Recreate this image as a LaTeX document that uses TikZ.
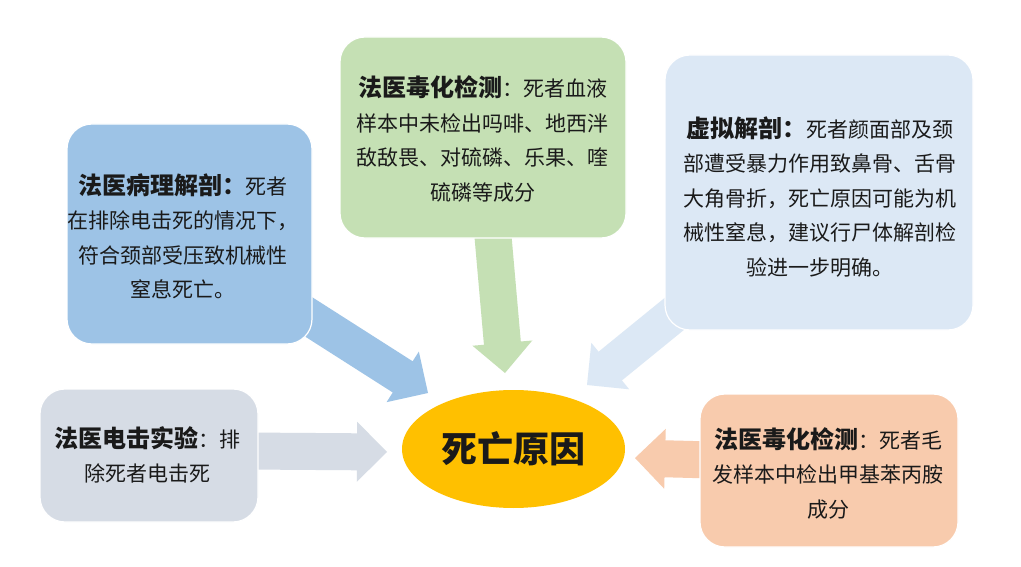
\documentclass[tikz,border=0pt]{standalone}
\usepackage{fontspec}
\newfontfamily\cjk{Noto Sans CJK SC}
\usetikzlibrary{calc,shapes.geometric}
\definecolor{cBlue}{HTML}{9DC3E6}
\definecolor{cGray}{HTML}{D6DCE5}
\definecolor{cGreen}{HTML}{C5E0B4}
\definecolor{cLight}{HTML}{DCE8F5}
\definecolor{cOrange}{HTML}{F8CBAD}
\definecolor{cGold}{HTML}{FFC000}
\definecolor{cText}{HTML}{1A1A1A}
\pgfdeclarelayer{bg}
\pgfsetlayers{bg,main}
\tikzset{
  box/.style={rectangle, rounded corners=25pt, draw=white, line width=1.2pt, inner sep=0pt},
  txt/.style={align=center, font=\cjk\fontsize{21}{34.5}\selectfont, text=cText, inner sep=0pt},
  hub/.style={ellipse, fill=cGold, inner sep=0pt, text=cText,
    font=\cjk\bfseries\fontsize{36}{40}\selectfont},
}
\newcommand\ttl[1]{{\fontsize{24}{34.5}\selectfont\bfseries #1}}
% block arrow: start, tip, colour
\newcommand\blockarr[3]{%
  \coordinate (hb) at ($(#2)!30pt!(#1)$);
  \fill[#3] ($(#1)!18.5pt!90:(#2)$) -- ($(hb)!18.5pt!90:(#2)$) -- ($(hb)!30pt!90:(#2)$)
    -- (#2) -- ($(hb)!30pt!-90:(#2)$) -- ($(hb)!18.5pt!-90:(#2)$)
    -- ($(#1)!18.5pt!-90:(#2)$) -- cycle;}
\begin{document}
\begin{tikzpicture}[x=1pt,y=-1pt]
\useasboundingbox (0,0) rectangle (1021,567);

% boxes
\node[box, fill=cBlue,   minimum width=245, minimum height=220] (path)  at (189.5,234) {};
\node[box, fill=cGray,   minimum width=218, minimum height=133] (elec)  at (149,455.5) {};
\node[box, fill=cGreen,  minimum width=286, minimum height=201] (tox1)  at (483,137.5) {};
\node[box, fill=cLight,  minimum width=308, minimum height=275] (virt)  at (819,192.5) {};
\node[box, fill=cOrange, minimum width=258, minimum height=153] (tox2)  at (829,470.5) {};
\node[hub, minimum width=223, minimum height=118] (cause) at (513.5,449) {死亡原因};

% texts
\node[txt] (pathT) at (183,236.5) {\ttl{法医病理解剖：}死者\\在排除电击死的情况下，\\符合颈部受压致机械性\\窒息死亡。};
\node[txt] (elecT) at (147.5,455) {\ttl{法医电击实验}：排\\除死者电击死};
\node[txt] (tox1T) at (482.5,139) {\ttl{法医毒化检测}：死者血液\\样本中未检出吗啡、地西泮\\敌敌畏、对硫磷、乐果、喹\\硫磷等成分};
\node[txt] (virtT) at (820,197) {\ttl{虚拟解剖：}死者颜面部及颈\\部遭受暴力作用致鼻骨、舌骨\\大角骨折，死亡原因可能为机\\械性窒息，建议行尸体解剖检\\验进一步明确。};
\node[txt] (tox2T) at (828,473) {\ttl{法医毒化检测}：死者毛\\发样本中检出甲基苯丙胺\\成分};

% arrow anchors
\coordinate (sPath) at (301,312);  \coordinate (tPath) at (428,393);
\coordinate (sTox1) at (492,225);  \coordinate (tTox1) at (505,373);
\coordinate (sVirt) at (684,306);  \coordinate (tVirt) at (587,385);
\coordinate (sElec) at (245,451);  \coordinate (tElec) at (387,452);
\coordinate (sTox2) at (712,460);  \coordinate (tTox2) at (635,458);

\begin{pgfonlayer}{bg}
\fill[white] (0,0) rectangle (1021,567);
\blockarr{sPath}{tPath}{cBlue}
\blockarr{sTox1}{tTox1}{cGreen}
\blockarr{sVirt}{tVirt}{cLight}
\blockarr{sElec}{tElec}{cGray}
\blockarr{sTox2}{tTox2}{cOrange}
\end{pgfonlayer}
\end{tikzpicture}
\end{document}
